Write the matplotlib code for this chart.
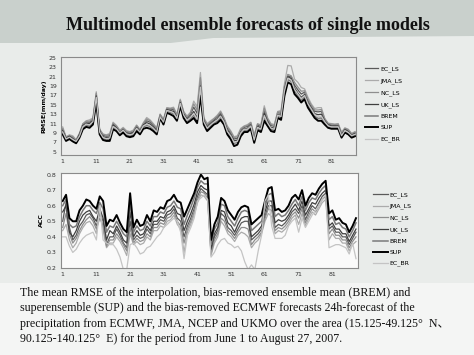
import matplotlib
matplotlib.use("Agg")
import matplotlib.pyplot as plt
from matplotlib.patches import Polygon, Rectangle

days = list(range(1, 89))
xticks = [1, 11, 21, 31, 41, 51, 61, 71, 81]
names = ["EC_LS", "JMA_LS", "NC_LS", "UK_LS", "BREM", "SUP", "EC_BR"]

# RMSE (mm/day)
rmse_ec_ls = [9.8,8.0,8.5,8.1,7.5,8.6,10.8,11.3,11.3,11.8,
17.2,9.5,8.5,8.3,8.4,10.9,10.3,9.3,9.9,9.1,
9.0,9.2,10.4,9.6,10.9,11.6,11.3,10.6,9.8,12.8,
11.7,14.2,14.1,14.0,12.6,15.8,13.3,12.2,12.9,14.5,
13.2,20.0,11.9,10.6,11.2,11.8,12.4,13.3,11.9,10.0,
9.0,7.7,7.9,9.6,10.2,10.4,11.0,8.1,10.7,10.4,
13.9,11.8,10.6,10.4,13.3,13.2,18.7,21.2,20.9,19.2,
18.2,17.3,17.7,15.9,14.6,13.6,13.5,13.6,11.9,10.9,
10.7,10.6,10.7,8.8,9.9,9.5,8.7,9.1]
rmse_jma_ls = [10.3,8.2,8.6,8.4,7.6,9.0,11.0,11.6,11.8,12.2,
17.8,9.8,8.8,8.6,8.9,11.3,10.6,9.6,10.2,9.5,
9.3,9.6,10.7,9.8,11.2,12.3,11.8,11.0,10.1,13.0,
12.0,14.4,14.3,14.5,13.0,16.2,13.6,12.6,13.4,15.8,
14.6,21.9,12.3,11.0,11.6,12.1,12.8,13.7,12.3,10.5,
9.5,8.2,8.4,10.0,10.5,10.8,11.3,8.6,11.0,10.7,
14.8,12.2,11.0,10.8,13.6,13.8,19.5,23.4,23.3,20.5,
19.8,18.7,18.4,16.6,15.2,14.2,14.4,14.4,12.1,11.1,
11.0,10.9,11.0,9.2,10.1,9.8,8.9,9.3]
rmse_nc_ls = [10.0,8.1,8.4,8.2,7.4,8.8,10.9,11.5,11.5,12.0,
17.5,9.7,8.7,8.5,8.7,11.1,10.5,9.5,10.0,9.3,
9.2,9.4,10.6,9.7,11.0,12.0,11.6,10.8,10.0,13.0,
11.8,14.3,14.2,14.3,12.8,16.0,13.5,12.4,13.2,15.2,
13.9,20.8,12.1,10.8,11.4,12.0,12.6,13.5,12.1,10.3,
9.3,8.0,8.2,9.8,10.4,10.6,11.2,8.4,10.9,10.6,
14.3,12.0,10.8,10.6,13.5,13.5,19.0,21.5,21.2,19.8,
18.8,17.9,18.0,16.2,14.9,13.9,13.9,14.0,12.0,11.0,
10.9,10.8,10.9,9.0,10.0,9.7,8.8,9.2]
rmse_uk_ls = [9.5,7.9,8.3,7.8,7.3,8.7,10.6,11.0,11.0,11.6,
16.9,9.3,8.2,8.0,8.1,10.7,10.1,9.1,9.7,8.9,
8.8,9.0,10.2,9.4,10.7,11.2,10.9,10.3,9.5,12.5,
11.5,14.0,13.8,13.6,12.3,15.5,13.0,11.9,12.5,13.6,
12.2,19.0,11.6,10.2,10.9,11.5,12.0,12.9,11.6,9.6,
8.6,7.3,7.5,9.2,9.9,10.0,10.7,7.7,10.4,10.1,
13.2,11.4,10.2,10.0,12.9,12.8,18.2,21.0,20.6,18.6,
17.5,16.6,17.2,15.4,14.3,13.1,12.9,13.0,11.6,10.7,
10.5,10.4,10.5,8.6,9.7,9.3,8.5,8.9]
rmse_brem = [9.0,7.6,8.0,7.5,7.1,8.4,10.2,10.7,10.5,11.2,
16.3,9.0,7.8,7.6,7.7,10.2,9.8,8.8,9.4,8.6,
8.4,8.6,9.8,9.0,10.3,10.6,10.4,9.8,9.0,12.6,
11.2,13.7,13.4,13.1,12.0,15.2,12.6,11.5,12.0,12.8,
11.6,18.2,11.2,9.8,10.5,11.2,11.5,12.3,11.2,9.1,
8.1,6.8,7.0,8.8,9.6,9.6,10.3,7.3,10.0,9.6,
12.2,10.9,9.8,9.6,12.6,12.2,17.6,20.4,20.0,17.9,
17.0,16.0,16.7,14.9,13.8,12.6,12.1,12.2,11.2,10.4,
10.2,10.2,10.2,8.3,9.4,9.0,8.3,8.6]
rmse_sup = [8.7,7.3,7.7,7.2,6.8,8.0,9.8,10.3,10.1,10.8,
15.5,8.7,7.5,7.3,7.3,9.8,9.4,8.5,9.1,8.3,
8.1,8.3,9.4,8.7,9.9,10.1,9.9,9.4,8.7,12.2,
10.8,13.3,13.0,12.6,11.6,14.7,12.2,11.1,11.6,12.2,
11.1,16.9,10.8,9.4,10.1,10.8,11.1,11.8,10.8,8.7,
7.7,6.2,6.5,8.3,9.2,9.2,9.9,6.9,9.6,9.2,
11.6,10.5,9.4,9.2,12.2,11.8,16.9,19.8,19.4,17.3,
16.5,15.5,16.2,14.4,13.3,12.2,11.6,11.6,10.8,10.1,
9.9,9.9,9.9,8.0,9.1,8.7,8.0,8.3]
rmse_ec_br = [9.2,7.7,8.1,7.6,7.2,8.3,10.3,10.9,10.7,11.4,
16.6,9.2,8.0,7.8,7.9,10.4,9.9,9.0,9.6,8.8,
8.6,8.8,10.0,9.2,10.5,10.9,10.6,10.0,9.2,12.4,
11.3,13.8,13.6,13.3,12.1,15.3,12.8,11.7,12.3,13.2,
11.9,18.8,11.4,10.0,10.7,11.3,11.8,12.6,11.4,9.3,
8.4,7.0,7.2,9.0,9.8,9.8,10.5,7.5,10.2,9.8,
12.7,11.1,10.0,9.8,12.8,12.5,17.9,20.7,20.3,18.3,
17.3,16.3,17.0,15.2,14.1,12.9,12.5,12.6,11.4,10.5,
10.3,10.3,10.3,8.4,9.5,9.1,8.4,8.7]

# ACC
acc_ec_ls = [0.50,0.62,0.46,0.38,0.41,0.47,0.50,0.54,0.55,0.52,
0.47,0.55,0.50,0.35,0.40,0.40,0.45,0.41,0.36,0.33,
0.50,0.38,0.41,0.39,0.40,0.45,0.42,0.48,0.48,0.51,
0.50,0.54,0.55,0.58,0.52,0.50,0.40,0.47,0.52,0.58,
0.66,0.71,0.69,0.67,0.30,0.40,0.44,0.55,0.53,0.46,
0.44,0.41,0.45,0.49,0.50,0.50,0.38,0.40,0.42,0.45,
0.53,0.60,0.60,0.46,0.48,0.47,0.49,0.52,0.56,0.58,
0.55,0.60,0.51,0.56,0.60,0.58,0.62,0.66,0.68,0.45,
0.47,0.43,0.43,0.40,0.40,0.35,0.39,0.43]
acc_jma_ls = [0.44,0.48,0.38,0.33,0.36,0.42,0.46,0.49,0.50,0.47,
0.42,0.60,0.44,0.33,0.36,0.36,0.40,0.37,0.33,0.28,
0.42,0.35,0.37,0.35,0.36,0.40,0.38,0.44,0.44,0.47,
0.46,0.50,0.51,0.54,0.48,0.45,0.30,0.43,0.48,0.54,
0.62,0.67,0.66,0.63,0.28,0.36,0.40,0.50,0.47,0.42,
0.40,0.37,0.41,0.43,0.42,0.40,0.33,0.36,0.38,0.42,
0.50,0.55,0.53,0.42,0.44,0.43,0.45,0.48,0.52,0.54,
0.48,0.55,0.47,0.52,0.56,0.54,0.58,0.62,0.64,0.38,
0.42,0.39,0.39,0.36,0.36,0.31,0.35,0.37]
acc_nc_ls = [0.46,0.55,0.42,0.36,0.39,0.44,0.48,0.51,0.53,0.50,
0.45,0.52,0.47,0.34,0.38,0.38,0.42,0.39,0.35,0.31,
0.46,0.36,0.39,0.37,0.38,0.42,0.40,0.46,0.46,0.49,
0.48,0.52,0.53,0.56,0.50,0.47,0.36,0.45,0.50,0.56,
0.64,0.69,0.68,0.65,0.29,0.38,0.42,0.52,0.50,0.44,
0.42,0.39,0.43,0.46,0.46,0.45,0.35,0.38,0.40,0.43,
0.52,0.58,0.57,0.44,0.46,0.45,0.47,0.50,0.54,0.56,
0.52,0.58,0.49,0.54,0.58,0.56,0.60,0.64,0.66,0.42,
0.45,0.41,0.41,0.38,0.38,0.33,0.37,0.40]
acc_uk_ls = [0.56,0.60,0.43,0.40,0.44,0.50,0.54,0.56,0.57,0.53,
0.50,0.58,0.52,0.38,0.44,0.42,0.47,0.43,0.38,0.36,
0.56,0.40,0.44,0.41,0.42,0.47,0.44,0.50,0.50,0.53,
0.52,0.56,0.57,0.60,0.55,0.54,0.44,0.50,0.55,0.61,
0.69,0.73,0.71,0.70,0.32,0.42,0.46,0.57,0.56,0.49,
0.47,0.43,0.48,0.52,0.53,0.53,0.40,0.42,0.44,0.47,
0.56,0.63,0.63,0.49,0.51,0.50,0.51,0.54,0.58,0.61,
0.57,0.63,0.54,0.58,0.62,0.61,0.65,0.68,0.70,0.47,
0.49,0.45,0.45,0.42,0.42,0.37,0.41,0.45]
acc_brem = [0.60,0.64,0.48,0.46,0.47,0.53,0.57,0.60,0.60,0.57,
0.55,0.62,0.58,0.43,0.47,0.46,0.50,0.46,0.42,0.40,
0.62,0.43,0.47,0.44,0.45,0.50,0.47,0.53,0.53,0.56,
0.55,0.59,0.60,0.63,0.59,0.58,0.48,0.54,0.59,0.65,
0.72,0.76,0.74,0.74,0.35,0.45,0.49,0.61,0.60,0.53,
0.50,0.47,0.52,0.56,0.57,0.56,0.44,0.46,0.48,0.50,
0.59,0.67,0.68,0.53,0.55,0.53,0.54,0.57,0.61,0.64,
0.60,0.66,0.57,0.62,0.65,0.64,0.68,0.71,0.73,0.51,
0.53,0.48,0.49,0.46,0.45,0.40,0.44,0.49]
acc_sup = [0.63,0.67,0.52,0.50,0.50,0.57,0.60,0.64,0.63,0.60,
0.58,0.66,0.63,0.47,0.51,0.50,0.54,0.49,0.45,0.43,
0.68,0.46,0.51,0.47,0.48,0.54,0.50,0.57,0.56,0.59,
0.58,0.63,0.64,0.67,0.63,0.62,0.53,0.58,0.63,0.68,
0.75,0.80,0.77,0.78,0.38,0.48,0.53,0.65,0.63,0.57,
0.54,0.51,0.56,0.59,0.60,0.59,0.48,0.50,0.52,0.54,
0.63,0.71,0.72,0.57,0.58,0.56,0.57,0.60,0.65,0.67,
0.64,0.70,0.60,0.65,0.68,0.67,0.71,0.74,0.76,0.55,
0.57,0.51,0.52,0.49,0.48,0.43,0.47,0.52]
acc_ec_br = [0.40,0.40,0.34,0.30,0.32,0.36,0.39,0.41,0.42,0.43,
0.38,0.60,0.38,0.36,0.35,0.35,0.32,0.27,0.19,0.19,
0.35,0.36,0.33,0.29,0.30,0.33,0.34,0.37,0.40,0.42,
0.46,0.48,0.50,0.52,0.50,0.43,0.26,0.41,0.46,0.52,
0.63,0.65,0.67,0.64,0.27,0.30,0.35,0.38,0.39,0.36,
0.35,0.33,0.34,0.31,0.24,0.19,0.22,0.19,0.31,0.41,
0.63,0.67,0.47,0.39,0.39,0.39,0.41,0.47,0.50,0.52,
0.43,0.52,0.46,0.50,0.54,0.57,0.60,0.64,0.67,0.33,
0.34,0.35,0.35,0.34,0.33,0.29,0.36,0.26]

colors = ["#5a5a5a", "#ababab", "#8e8e8e", "#3f3f3f", "#7a7a7a", "#000000", "#c4c4c4"]
widths = [0.9, 0.9, 0.9, 0.9, 1.1, 1.4, 0.9]

rmse_all = [rmse_ec_ls, rmse_jma_ls, rmse_nc_ls, rmse_uk_ls, rmse_brem, rmse_sup, rmse_ec_br]
acc_all = [acc_ec_ls, acc_jma_ls, acc_nc_ls, acc_uk_ls, acc_brem, acc_sup, acc_ec_br]

caption = ("The mean RMSE of the interpolation, bias-removed ensemble mean (BREM) and\n"
           "superensemble (SUP) and the bias-removed ECMWF forecasts 24h-forecast of the\n"
           "precipitation from ECMWF, JMA, NCEP and UKMO over the area (15.125-49.125°  N、\n"
           "90.125-140.125°  E) for the period from June 1 to August 27, 2007.")

fig = plt.figure(figsize=(4.74, 3.55), dpi=100, facecolor="#e9ecea")
W, H = 474, 355

# slide background: darker header band with a swoosh, lighter lower part
fig.patches.append(Polygon([(0, 1), (1, 1), (1, 1 - 36 / H), (0.45, 1 - 38 / H), (0.36, 1 - 43 / H), (0, 1 - 43 / H)],
                           closed=True, transform=fig.transFigure, facecolor="#c9d0cc", edgecolor="none", zorder=-2))
fig.patches.append(Rectangle((0, 0), 1, 72 / H, transform=fig.transFigure,
                             facecolor="#f4f5f4", edgecolor="none", zorder=-2))

fig.text(248 / W, 1 - 25 / H, "Multimodel ensemble forecasts of single models",
         ha="center", va="center", fontsize=13, fontweight="bold", family="Liberation Serif", color="#111111")

ax1 = fig.add_axes([61 / W, 1 - 155 / H, 295 / W, 98 / H])
ax2 = fig.add_axes([61 / W, 1 - 268 / H, 297 / W, 95 / H])

for name, vals, c, lw in zip(names, rmse_all, colors, widths):
    ax1.plot(days, vals, color=c, lw=lw, label=name)
for name, vals, c, lw in zip(names, acc_all, colors, widths):
    ax2.plot(days, vals, color=c, lw=lw, label=name)

ax1.set_facecolor("#ebeceb")
ax2.set_facecolor("#fafafa")
ax1.set_xlim(0.5, 88.3)
ax2.set_xlim(0.5, 88.6)
ax1.set_ylim(4.3, 25.2)
ax2.set_ylim(0.2, 0.81)
ax1.set_yticks(range(5, 26, 2))
ax2.set_yticks([0.2, 0.3, 0.4, 0.5, 0.6, 0.7, 0.8])
for ax in (ax1, ax2):
    ax.set_xticks(xticks)
    ax.tick_params(labelsize=4.5, length=0, pad=3, colors="#333333")
    for s in ax.spines.values():
        s.set_color("#8a8a8a")
        s.set_linewidth(0.8)
ax1.set_ylabel("RMSE(mm/day)", fontsize=4.5, fontweight="bold", labelpad=2)
ax2.set_ylabel("ACC", fontsize=4.5, fontweight="bold", labelpad=2)

ax1.legend(loc="center left", bbox_to_anchor=(1.01, 0.52), frameon=False, fontsize=4.5,
           handlelength=2.2, handletextpad=0.3, labelspacing=0.95)
ax2.legend(loc="center left", bbox_to_anchor=(1.03, 0.41), frameon=False, fontsize=4.5,
           handlelength=2.4, handletextpad=0.3, labelspacing=0.9)

fig.text(20 / W, 1 - 287 / H, caption, ha="left", va="top", fontsize=8.6, linespacing=1.38,
         family=["Liberation Serif", "Noto Sans CJK SC"], color="#111111")

fig.savefig("out.png", dpi=100, facecolor=fig.get_facecolor())
